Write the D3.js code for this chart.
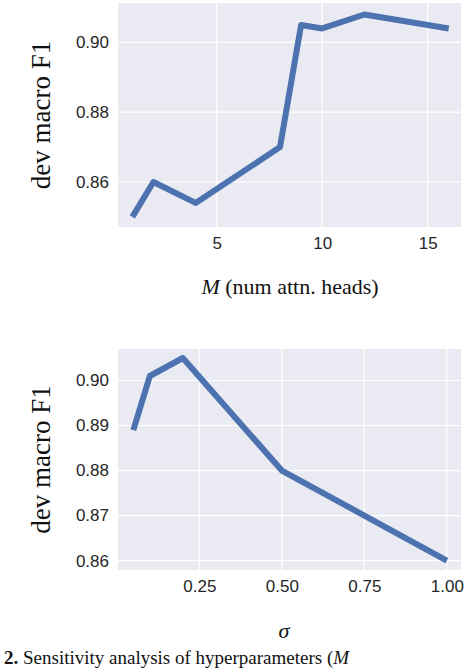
<!DOCTYPE html>
<html><head><meta charset="utf-8">
<script src="https://cdn.jsdelivr.net/npm/d3@7"></script>
<style>body{margin:0;background:#fff}</style></head>
<body><svg id="c" width="474" height="669"></svg>
<script>
const mVals = [1, 2, 4, 8, 9, 10, 12, 16];
const mF1 = [0.850, 0.860, 0.854, 0.870, 0.905, 0.904, 0.908, 0.904];
const mTicks = [5, 10, 15];
const mYTicks = [0.86, 0.88, 0.90];
const sVals = [0.05, 0.1, 0.2, 0.5, 0.75, 1.0];
const sF1 = [0.889, 0.901, 0.905, 0.880, 0.870, 0.860];
const sTicks = [0.25, 0.5, 0.75, 1.0];
const sYTicks = [0.86, 0.87, 0.88, 0.89, 0.90];

const svg = d3.select("#c");
function panel(o) {
  const x = d3.scaleLinear().domain(o.xd).range([118, 461]);
  const y = d3.scaleLinear().domain(o.yd).range([o.bot, o.top]);
  const g = svg.append("g");
  g.append("rect").attr("x", 118).attr("y", o.top).attr("width", 343).attr("height", o.bot - o.top).attr("fill", "#eaeaf2");
  g.selectAll(".gx").data(o.xt).join("line").attr("x1", d => x(d)).attr("x2", d => x(d)).attr("y1", o.top).attr("y2", o.bot).attr("stroke", "#fff").attr("stroke-width", 1.2);
  g.selectAll(".gy").data(o.yt).join("line").attr("y1", d => y(d)).attr("y2", d => y(d)).attr("x1", 118).attr("x2", 461).attr("stroke", "#fff").attr("stroke-width", 1.2);
  const ax = d3.axisBottom(x).tickValues(o.xt).tickFormat(o.xf).tickSize(0).tickPadding(10);
  const gx = g.append("g").attr("transform", `translate(0,${o.bot})`).call(ax);
  const ay = d3.axisLeft(y).tickValues(o.yt).tickFormat(d3.format(".2f")).tickSize(0).tickPadding(9);
  const gy = g.append("g").attr("transform", "translate(118,0)").call(ay);
  [gx, gy].forEach(a => { a.select(".domain").remove(); a.selectAll("text").attr("font-family", "Liberation Sans, Arial, sans-serif").attr("font-size", 17).attr("fill", "#262626"); });
  const data = o.xs.map((v, i) => [v, o.ys[i]]);
  g.append("path").datum(data).attr("d", d3.line().x(d => x(d[0])).y(d => y(d[1]))).attr("fill", "none").attr("stroke", "#4c72b0").attr("stroke-width", 6).attr("stroke-linejoin", "round");
  g.append("text").attr("transform", `translate(50,${(o.top + o.bot) / 2}) rotate(-90)`).attr("text-anchor", "middle").attr("font-family", "Liberation Serif, serif").attr("font-size", 27).attr("fill", "#111").text("dev macro F1");
  return g;
}
const g1 = panel({xd: [0.32, 16.58], yd: [0.8471, 0.9113], top: 3, bot: 227, xt: mTicks, yt: mYTicks, xs: mVals, ys: mF1, xf: d3.format("d")});
g1.append("text").attr("x", 290).attr("y", 294).attr("text-anchor", "middle").attr("font-family", "Liberation Serif, serif").attr("font-size", 22).attr("fill", "#111")
  .html('<tspan font-style="italic">M</tspan> (num attn. heads)');
const g2 = panel({xd: [0.0036, 1.043], yd: [0.8579, 0.907], top: 349, bot: 570, xt: sTicks, yt: sYTicks, xs: sVals, ys: sF1, xf: d3.format(".2f")});
g2.append("text").attr("x", 284).attr("y", 638).attr("text-anchor", "middle").attr("font-family", "Liberation Serif, serif").attr("font-style", "italic").attr("font-size", 22).attr("fill", "#111").text("σ");
svg.append("text").attr("x", 4).attr("y", 664).attr("font-family", "Liberation Serif, serif").attr("font-size", 19).attr("fill", "#111")
  .html('<tspan font-weight="bold">2.</tspan>  Sensitivity analysis of hyperparameters (<tspan font-style="italic">M</tspan>');
</script></body></html>
